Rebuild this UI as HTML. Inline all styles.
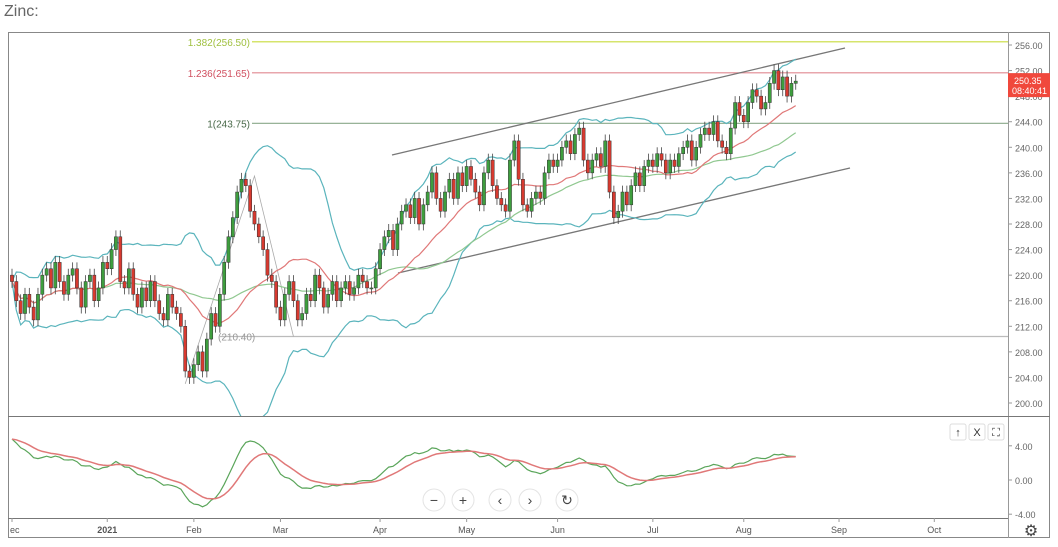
<!DOCTYPE html>
<html><head><meta charset="utf-8"><style>
body{margin:0;background:#fff;width:1058px;height:547px;overflow:hidden;font-family:"Liberation Sans",sans-serif}
#title{position:absolute;left:4px;top:3px;font-size:16px;color:#666}
svg{position:absolute;left:0;top:0}
text{font-family:"Liberation Sans",sans-serif}
</style></head><body>
<div id="title">Zinc:</div>
<svg id="c" width="1058" height="547"></svg>
<script>
const closes=[219,216,214,217,215,213,217,220,221,218,222,219,217,220,221,218,215,219,220,216,218,222,221,
224,226,219,218,221,217,215,218,216,219,216,214,213,217,215,214,212,205,204,
206,208,205,210,214,212,217,222,226,229,233,235,234,230,228,226,224,220,219,215,
213,217,219,216,213,214,217,216,220,218,215,217,219,216,218,219,217,218,220,219,218,218,221,
224,226,227,224,228,230,231,229,232,228,231,233,236,232,230,233,235,232,236,234,
237,235,233,231,236,238,234,232,231,230,238,241,235,231,230,232,233,232,236,238,237,
238,240,241,239,242,243,238,236,238,239,237,241,233,229,230,233,231,234,236,234,237,238,
237,239,238,236,238,237,239,240,241,238,240,242,243,242,244,241,240,239,243,247,245,
244,247,249,248,246,247,250,252,249,251,248,250,250.35];
const opens=[220,219,216,214,217,215,213,217,220,221,218,222,219,217,220,221,218,215,219,220,216,218,222,
221,224,226,219,218,221,217,215,218,216,219,216,214,213,217,215,214,212,205,
204,206,208,205,210,214,212,217,222,226,229,233,235,234,230,228,226,224,220,219,
215,213,217,219,216,213,214,217,216,220,218,215,217,219,216,218,219,217,218,220,219,218,218,
221,224,226,227,224,228,230,231,229,232,228,231,233,236,232,230,233,235,232,236,
234,237,235,233,231,236,238,234,232,231,230,238,241,235,231,230,232,233,232,236,238,
237,238,240,241,239,242,243,238,236,238,239,237,241,233,229,230,233,231,234,236,234,237,
238,237,239,238,236,238,237,239,240,241,238,240,242,243,242,244,241,240,239,243,247,
245,244,247,249,248,246,247,250,252,249,251,248,250];
const priceTicks=[256,252,248,244,240,236,232,228,224,220,216,212,208,204,200];
const macdTicks=[4,0,-4];
const monthLabels=["ec","2021","Feb","Mar","Apr","May","Jun","Jul","Aug","Sep","Oct"];
const monthBars=[0,22,42,62,85,105,126,148,169,191,213];
const fibLevels=[256.5,251.65,243.75,210.4];
const fibText=["1.382(256.50)","1.236(251.65)","1(243.75)","(210.40)"];
const lastPrice=250.35;
const emaSeeds=[217,212];

const S=document.getElementById('c'),NS='http://www.w3.org/2000/svg';
const xB=i=>12+i*4.33, yP=p=>45+(256-p)*6.393, yM=v=>480-v*8.55;
function el(t,a,parent){const e=document.createElementNS(NS,t);for(const k in a)e.setAttribute(k,a[k]);(parent||S).appendChild(e);return e;}
const defs=el('defs',{});const cp=el('clipPath',{id:'mc'},defs);el('rect',{x:8,y:33,width:1000,height:383},cp);
const cp2=el('clipPath',{id:'ic'},defs);el('rect',{x:8,y:417,width:1000,height:101},cp2);
let f=el('rect',{x:8.5,y:32.5,width:1041,height:505,fill:'none',stroke:'#888'});

el('line',{x1:1008.5,y1:32,x2:1008.5,y2:538,stroke:'#999'});
el('line',{x1:8,y1:416.5,x2:1050,y2:416.5,stroke:'#777'});
el('line',{x1:8,y1:518.5,x2:1008,y2:518.5,stroke:'#777'});
priceTicks.forEach(p=>{const y=yP(p);
 el('line',{x1:1008,y1:y,x2:1012,y2:y,stroke:'#999'});
 const t=el('text',{x:1015,y:y+4,'font-size':9,fill:'#666'});t.textContent=p.toFixed(2);
 });
macdTicks.forEach(v=>{const y=yM(v);
 el('line',{x1:1008,y1:y,x2:1012,y2:y,stroke:'#999'});
 const t=el('text',{x:1015,y:y+4,'font-size':9,fill:'#666'});t.textContent=v.toFixed(2);
 });
monthLabels.forEach((m,k)=>{const x=xB(monthBars[k]);
 el('line',{x1:x,y1:518,x2:x,y2:522,stroke:'#999'});
 const t=el('text',{x:k?x:10,y:533,'font-size':9,fill:'#555','text-anchor':k?'middle':'start','font-weight':m==='2021'?'bold':'normal'});t.textContent=m;
 });
const G=el('g',{'clip-path':'url(#mc)'});
const fibCol=['#c8dc3c','#e08890','#8aa88a','#bbb'];const fibTxt=['#a0c040','#d05060','#4a6a4a','#999'];
fibLevels.forEach((p,k)=>{const y=yP(p);const x0=k<3?252:220;
 el('line',{x1:x0,y1:y,x2:1008,y2:y,stroke:fibCol[k],'stroke-width':1.2},G);
 const t=el('text',{x:k<3?250:218,y:y+4,'font-size':10,fill:fibTxt[k],'text-anchor':k<3?'end':'start'},G);t.textContent=fibText[k];
 });
el('polyline',{points:`${xB(40)},${yP(203)} ${xB(56)},${yP(235.5)} ${xB(65)},${yP(210.4)}`,fill:'none',stroke:'#aaa','stroke-width':0.8},G);
el('line',{x1:392,y1:155,x2:845,y2:48,stroke:'#777','stroke-width':1.3},G);
el('line',{x1:398,y1:273,x2:850,y2:168,stroke:'#777','stroke-width':1.3},G);
const n=closes.length;const sma=(k,N)=>{const s=closes.slice(Math.max(0,k-N+1),k+1);return s.reduce((a,b)=>a+b,0)/s.length;};
const mid=[],up=[],lo=[],ma50=[];
for(let i=0;i<n;i++){const s=closes.slice(Math.max(0,i-19),i+1);const m=s.reduce((a,b)=>a+b,0)/s.length;
 const sd=Math.sqrt(s.reduce((a,b)=>a+(b-m)*(b-m),0)/s.length);mid.push(m);up.push(m+2*sd);lo.push(m-2*sd);ma50.push(sma(i,40));}
const path=(arr,f)=>arr.map((v,i)=>(i?'L':'M')+xB(i).toFixed(1)+','+f(v).toFixed(1)).join('');
[[up,'#5ab4bc','bb-upper'],[lo,'#5ab4bc','bb-lower'],[ma50,'#90c890','ma-slow'],[mid,'#e07878','ma-fast']].forEach(([a,c,nm])=>{
 const p=el('path',{d:path(a,yP),fill:'none',stroke:c,'stroke-width':1.2},G);});
for(let i=0;i<n;i++){const o=opens[i],c=closes[i],x=xB(i);const upc=c>=o;
 const hi=Math.max(o,c)+1,lw=Math.min(o,c)-1;
 el('line',{x1:x,y1:yP(hi),x2:x,y2:yP(lw),stroke:'#444','stroke-width':0.8},G);
 const top=yP(Math.max(o,c)),h=Math.max(1,yP(Math.min(o,c))-top);
 const r=el('rect',{x:x-1.6,y:top,width:3.2,height:h,fill:upc?'#3e9e3e':'#d83a30',stroke:'#333','stroke-width':0.5},G);
 }
const ly=yP(lastPrice);
const lb=el('rect',{x:1008,y:ly-8,width:42,height:24,fill:'#f0483c'});
let t=el('text',{x:1014,y:ly+3,'font-size':9,fill:'#fff'});t.textContent=lastPrice.toFixed(2);
t=el('text',{x:1012,y:ly+13,'font-size':9,fill:'#fff'});t.textContent='08:40:41';
const ef=[],es=[];let a=emaSeeds[0],b=emaSeeds[1];
for(let i=0;i<n;i++){a=a+(closes[i]-a)*2/13;b=b+(closes[i]-b)*2/27;ef.push(a);es.push(b);}
const macd=ef.map((v,i)=>v-es[i]);const sig=[];let s=macd[0];macd.forEach(v=>{s=s+(v-s)*2/10;sig.push(s);});
const G2=el('g',{'clip-path':'url(#ic)'});
let p=el('path',{d:path(macd,yM),fill:'none',stroke:'#5aa55a','stroke-width':1.2},G2);
p=el('path',{d:path(sig,yM),fill:'none',stroke:'#e07878','stroke-width':1.5},G2);
[['−',434,'zoom-out-button'],['+',463,'zoom-in-button'],['‹',500,'scroll-left-button'],['›',530,'scroll-right-button'],['↻',567,'reset-button']].forEach(([ch,x,nm])=>{
 const g=el('g',{});
 el('circle',{cx:x,cy:500,r:11,fill:'#fff',stroke:'#e4e4e4'},g);
 const tt=el('text',{x:x,y:505,'font-size':14,'text-anchor':'middle',fill:'#444'},g);tt.textContent=ch;});
[['↑',958,'move-up-button'],['X',977,'close-pane-button'],['⛶',996,'maximize-pane-button']].forEach(([ch,x,nm])=>{
 const g=el('g',{});
 el('rect',{x:x-8,y:424,width:16,height:16,rx:2,fill:'#fff',stroke:'#ddd'},g);
 const tt=el('text',{x:x,y:436,'font-size':11,'text-anchor':'middle',fill:'#333'},g);tt.textContent=ch;});
t=el('text',{x:1031,y:536,'font-size':16,'text-anchor':'middle',fill:'#444'});t.textContent='⚙';

</script></body></html>
